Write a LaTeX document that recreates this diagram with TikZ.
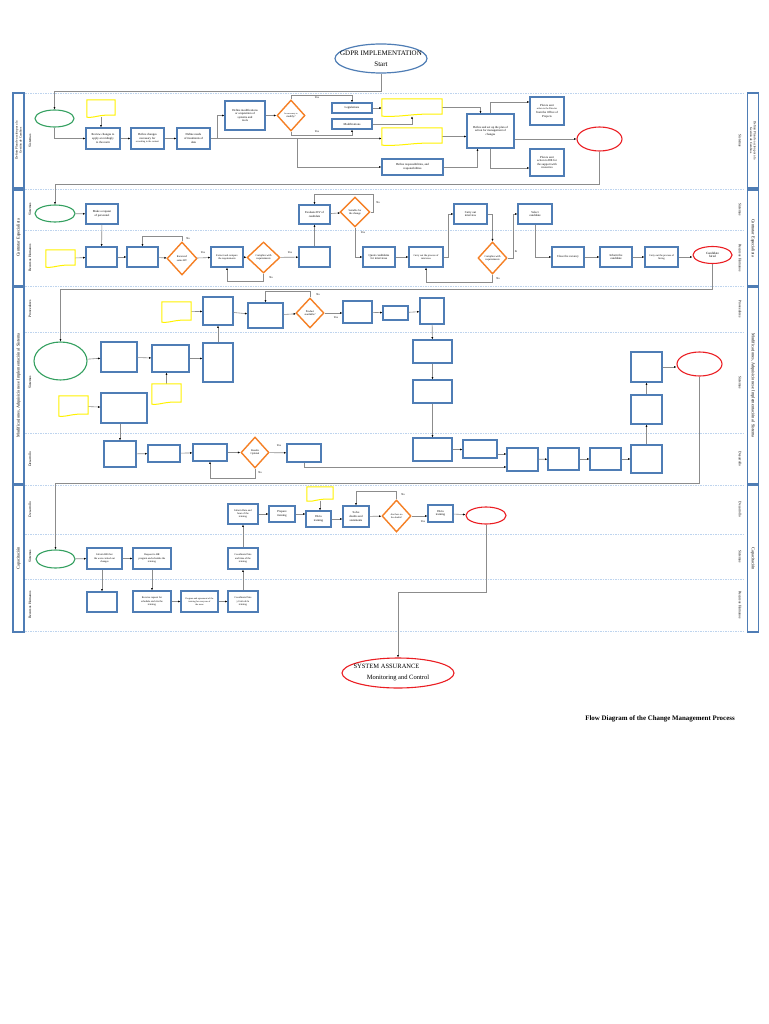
\documentclass[tikz,border=0pt]{standalone}
\usepackage{fontspec}
\setmainfont{Liberation Serif}
\usetikzlibrary{shapes.geometric,arrows.meta,calc}

\definecolor{boxblue}{RGB}{79,125,181}
\definecolor{startgreen}{RGB}{52,160,96}
\definecolor{decorange}{RGB}{245,128,37}
\definecolor{docyellow}{RGB}{255,242,0}
\definecolor{endred}{RGB}{235,30,35}
\definecolor{linegray}{RGB}{140,140,140}
\definecolor{lanecol}{RGB}{190,212,238}

\newcommand{\tinytxt}{\fontsize{2.4}{3}\selectfont}

\tikzset{
  sz/.style 2 args={minimum width=#1pt, minimum height=#2pt},
  box/.style={draw=boxblue, line width=1.1pt, fill=white, inner sep=0.4pt, align=center, font=\fontsize{3}{3.6}\selectfont},
  small/.style={font=\fontsize{2.6}{3.2}\selectfont},
  dec/.style={diamond, draw=decorange, line width=1.4pt, fill=white, inner sep=0pt, align=center, font=\fontsize{2.7}{3.2}\selectfont},
  startnode/.style={ellipse, draw=startgreen, line width=1.1pt, fill=white, inner sep=0pt},
  endnode/.style={ellipse, draw=endred, line width=1.1pt, fill=white, inner sep=0pt, align=center, font=\fontsize{3.2}{3.8}\selectfont},
  ydoc/.style={inner sep=0pt},
  docline/.style={draw=docyellow, line width=1pt},
  line/.style={draw=linegray, line width=0.6pt},
  arr/.style={line, -{Latex[length=2.4pt,width=2pt,color=black]}},
  lbl/.style={font=\fontsize{2.8}{3}\selectfont, inner sep=0pt},
  pool/.style={draw=boxblue, line width=1.1pt, minimum height=11pt, inner sep=0.3pt, align=center, font=\fontsize{4.3}{4.8}\selectfont},
  lane/.style={font=\fontsize{3.6}{4}\selectfont, inner sep=0pt},
  lanesep/.style={draw=lanecol, line width=0.5pt, dash pattern=on 1.5pt off 1pt},
}

\begin{document}
\begin{tikzpicture}[x=1pt, y=-1pt]
  \useasboundingbox[fill=white] (0,0) rectangle (768,1024);

  % lanes
  \foreach \y in {93,189,230,286,332,433,485,534,579,631}
    \draw[lanesep] (25,\y) -- (745,\y);

  % pool titles
  \node[pool, rotate=90, minimum width=95pt, font=\fontsize{3.2}{3.8}\selectfont] (pl1) at (18.5,140.5) {Definir Plan de acción para la\\Gestión de Cambios};
  \node[pool, rotate=90, minimum width=96pt] (pl2) at (18.5,238) {Contratar Especialista};
  \node[pool, rotate=90, minimum width=197pt] (pl3) at (18.5,385.5) {Modificaciones, Adquisiciones e Implementación al Sistema};
  \node[pool, rotate=90, minimum width=147pt] (pl4) at (18.5,558.5) {Capacitación};
  \node[pool, rotate=-90, minimum width=95pt, font=\fontsize{3.2}{3.8}\selectfont] (pr1) at (753,140.5) {Definir Plan de acción para la\\Gestión de Cambios};
  \node[pool, rotate=-90, minimum width=96pt] (pr2) at (753,238) {Contratar Especialista};
  \node[pool, rotate=-90, minimum width=197pt] (pr3) at (753,385.5) {Modificaciones, Adquisiciones e Implementación al Sistema};
  \node[pool, rotate=-90, minimum width=147pt] (pr4) at (753,558.5) {Capacitación};

  % lane names
  \foreach \n/\y/\t in {a/141/Sistemas, b/209.5/Sistemas, c/258/Recursos Humanos, d/309/Proveedores,
      e/382.5/Sistemas, f/459/Desarrollo, g/509.5/Desarrollo, h/556.5/Sistemas, i/605/Recursos Humanos} {
    \node[lane, rotate=90] (ll\n) at (30,\y) {\t};
    \node[lane, rotate=-90] (lr\n) at (740,\y) {\t};
  }

  % plan of action
  \node[ellipse, draw=boxblue, line width=1.2pt, sz={92}{29}, inner sep=0pt, align=center, font=\fontsize{7}{10.5}\selectfont] (start) at (381,58.5) {\makebox[0pt]{GDPR IMPLEMENTATION}\\Start};
  \node[startnode, sz={39}{17}] (g1) at (54.5,118.5) {};
  \node[ydoc, sz={28}{17}] (y1) at (101,108.5) {};
  \node[box, sz={34}{21}] (b11) at (103,138.5) {Review changes to\\apply accordingly\\to the norm};
  \node[box, sz={33}{21}] (b12) at (147.5,138.5) {Define changes\\necessary for\\{\tinytxt according to the context}};
  \node[box, sz={33}{21}] (b13) at (193.5,138.5) {Define needs\\of treatments of\\data};
  \node[box, sz={40}{29}] (b14) at (245,115.5) {Define modifications\\or acquisition of\\systems and\\tools};
  \node[dec, sz={28}{31}] (dm1) at (291,115.5) {{\fontsize{2.2}{2.6}\selectfont Is necessary to}\\modify?};
  \node[box, sz={40}{10}] (b15) at (352,108) {Legislations};
  \node[box, sz={40}{10}] (b16) at (352,124) {Modifications};
  \node[ydoc, sz={60}{17}] (y2) at (412,107.5) {};
  \node[ydoc, sz={60}{17}] (y3) at (412,136.5) {};
  \node[box, sz={61}{16}] (b17) at (412.5,167) {Define responsibilities, and\\responsibilities};
  \node[box, sz={47}{34}] (b18) at (490.5,131) {Define and set up the plan of\\action for management of\\changes};
  \node[box, sz={34}{28}] (b19) at (547,111) {Plan is sent\\{\tinytxt action to the Director}\\from the Office of\\Projects};
  \node[box, sz={34}{27}] (b1a) at (547,162.5) {Plan is sent\\action to HR for\\the support with\\resources};
  \node[endnode, sz={45}{24}] (r1) at (599.5,139) {};
  \coordinate (j1) at (217,138.5);
  \coordinate (j2) at (297,138.5);

  \draw[arr] (start.south) -- ++(0,18) -| (g1.north);
  \draw[arr] (g1.south) |- (b11.west);
  \draw[arr] (y1.south) -- (y1.south |- b11.north);
  \draw[arr] (b11) -- (b12);
  \draw[arr] (b12) -- (b13);
  \draw[arr] (b13.east) -- (b13.east -| y3.west);
  \draw[arr] (j1) |- (b14.west);
  \draw[arr] (j2) |- (b17.west);
  \draw[arr] (b14) -- (dm1);
  \draw[arr] (dm1.north) -- ++(0,-4) -| (b15.north);
  \draw[arr] (dm1.south) -- ++(0,4) -| (b16.south);
  \draw[arr] (b15.east) -- (b15.east -| y2.west);
  \draw[arr] (b16.east) -| (y2.south);
  \draw[arr] (y2.east) -| ([xshift=-10pt]b18.north);
  \draw[arr] (y3.east) -- (y3.east -| b18.west);
  \draw[arr] (b17.east) -| ([xshift=-13pt]b18.south);
  \draw[arr] (b18.north) |- ([yshift=9pt]b19.west);
  \draw[arr] (b18.south) |- ([yshift=-5.5pt]b1a.west);
  \draw[arr] (r1.west -| b18.east) -- (r1.west);
  \node[lbl] (l1) at (317,98) {Yes};
  \node[lbl] (l2) at (317,132) {Yes};

  % hiring of the specialist
  \node[startnode, sz={40}{17}] (g2) at (55,213.5) {};
  \draw[arr] (r1.south) -- ++(0,33) -| (g2.north);
  \node[box, sz={32}{20}] (b21) at (102,214) {Make a request\\of personnel};
  \node[ydoc, sz={29}{17}] (y4) at (60.5,258.5) {};
  \node[box, sz={31}{20}] (b22) at (101.5,257) {};
  \node[box, sz={31}{20}] (b23) at (142.5,257) {};
  \node[dec, sz={30}{33}] (dm2) at (182,258.5) {Received\\same HV};
  \node[box, sz={32}{20}, small] (b24) at (227,257) {Extract and compare\\the requirements};
  \node[dec, sz={33}{31}] (dm3) at (263.5,257.5) {Complies with\\requirements};
  \node[box, sz={31}{20}] (b25) at (314.5,257) {};
  \node[box, sz={31}{19}] (b26) at (314.5,214.5) {Evaluate HV of\\candidate};
  \node[dec, sz={30}{30}] (dm4) at (355,212) {Suitable for\\the change};
  \node[box, sz={32}{20}] (b27) at (379,257) {Quote candidates\\for interviews};
  \node[box, sz={34}{20}, small] (b28) at (426,257) {Carry out the process of\\interview};
  \node[box, sz={33}{20}] (b29) at (470.5,214) {Carry out\\interview};
  \node[dec, sz={29}{32}] (dm5) at (492.5,258) {Complies with\\requirements};
  \node[box, sz={34}{20}] (b2a) at (535,214) {Select\\candidate};
  \node[box, sz={32}{20}] (b2b) at (568,257) {Close the vacancy};
  \node[box, sz={32}{20}] (b2c) at (616,257) {Inform the\\candidate};
  \node[box, sz={33}{20}, small] (b2d) at (661.5,257) {Carry out the process of\\hiring};
  \node[endnode, sz={39}{17}] (r2) at (712.5,255) {Candidate\\hired};

  \draw[arr] (g2) -- (b21);
  \draw[arr] (b21) -- (b22);
  \draw[arr] (y4) -- (b22);
  \draw[arr] (b22) -- (b23);
  \draw[arr] (b23) -- (dm2);
  \draw[arr] (dm2.north) -- ++(0,-5) -| (b23.north);
  \draw[arr] (dm2) -- (b24);
  \draw[arr] (b24) -- (dm3);
  \draw[arr] (dm3.south) -- ++(0,8) -| (b24.south);
  \draw[arr] (dm3) -- (b25);
  \draw[arr] (b25) -- (b26);
  \draw[arr] (b26) -- (dm4);
  \draw[arr] (dm4.east) -| ++(3,-18) -| (b26.north);
  \draw[arr] (dm4.south) |- (b27.west);
  \draw[arr] (b27) -- (b28);
  \draw[arr] (b28.east) -- ++(5,0) |- (b29.west);
  \draw[arr] (b29.east) -| (dm5.north);
  \draw[arr] (dm5.east) -- ++(6,0) |- (b2a.west);
  \draw[arr] (dm5.south) -- ++(0,8) -| (b28.south);
  \draw[arr] (b2a.south) |- (b2b.west);
  \draw[arr] (b2b) -- (b2c);
  \draw[arr] (b2c) -- (b2d);
  \draw[arr] (b2d.east) -- (b2d.east -| r2.west);
  \node[lbl] (l3) at (188,239) {No};
  \node[lbl] (l4) at (203,253) {Yes};
  \node[lbl] (l5) at (271,278) {No};
  \node[lbl] (l6) at (290,253) {Yes};
  \node[lbl] (l7) at (378,203) {No};
  \node[lbl] (l8) at (363,233) {Yes};
  \node[lbl] (l9) at (516,252) {Si};
  \node[lbl] (l10) at (498,279) {No};

  % modifications, acquisitions and implementation
  \node[startnode, sz={53}{38}] (g3) at (60.5,361) {};
  \draw[arr] (r2.south) -- ++(0,25.5) -| (g3.north);
  \node[ydoc, sz={29}{20}] (y5) at (176.5,312) {};
  \node[box, sz={30}{28}] (b31) at (218,311) {};
  \node[box, sz={35}{25}] (b32) at (265.5,315.5) {};
  \node[dec, sz={28}{30}] (dm6) at (310,313) {Product\\available?};
  \node[box, sz={29}{22}] (b33) at (357.5,312) {};
  \node[box, sz={25}{14}] (b34) at (395.5,313) {};
  \node[box, sz={24}{26}] (b35) at (432,311) {};
  \node[box, sz={39}{23}] (b36) at (432.5,351.5) {};
  \node[box, sz={39}{23}] (b37) at (432.5,391.5) {};
  \node[box, sz={39}{23}] (b38) at (432.5,449.5) {};
  \node[box, sz={34}{18}] (b39) at (480,449) {};
  \node[box, sz={31}{23}] (b3a) at (522.5,459.5) {};
  \node[box, sz={31}{22}] (b3b) at (563.5,459) {};
  \node[box, sz={31}{22}] (b3c) at (605.5,459) {};
  \node[box, sz={31}{28}] (b3d) at (646.5,459) {};
  \node[box, sz={31}{29}] (b3e) at (646.5,409.5) {};
  \node[box, sz={31}{30}] (b3f) at (646.5,367) {};
  \node[endnode, sz={45}{24}] (r3) at (699.5,364) {};
  \node[box, sz={36}{30}] (s1) at (119,357) {};
  \node[box, sz={37}{27}] (s2) at (170.5,358.5) {};
  \node[box, sz={30}{39}] (s3) at (218,362.5) {};
  \node[ydoc, sz={29}{20}] (y6) at (166.5,394) {};
  \node[ydoc, sz={29}{20}] (y7) at (73.5,406) {};
  \node[box, sz={46}{30}] (s4) at (124,408) {};
  \node[box, sz={32}{26}] (d0) at (120,454) {};
  \node[box, sz={32}{17}] (d1) at (164,453.5) {};
  \node[box, sz={34}{17}] (d2) at (210,452.5) {};
  \node[dec, sz={28}{31}] (dm7) at (255,452.5) {Results\\Optimal};
  \node[box, sz={34}{18}] (d3) at (304,453) {};

  \draw[arr] (y5) -- (b31);
  \draw[arr] (b31) -- (b32);
  \draw[arr] (b32) -- (dm6);
  \draw[arr] (dm6.north) -- ++(0,-6) -| (b32.north);
  \draw[arr] (dm6.east) -- (dm6.east -| b33.west);
  \draw[arr] (b33) -- (b34);
  \draw[arr] (b34) -- (b35);
  \draw[arr] (b35) -- (b36);
  \draw[arr] (b36) -- (b37);
  \draw[arr] (b37) -- (b38);
  \draw[arr] (g3) -- (s1);
  \draw[arr] (s1) -- (s2);
  \draw[arr] (s2.east) -- (s2.east -| s3.west);
  \draw[arr] (s3) -- (b31);
  \draw[arr] (y6.north) -- (y6.north |- s2.south);
  \draw[arr] (y7) -- (s4);
  \draw[arr] (d0.north |- s4.south) -- (d0.north);
  \draw[arr] (d0) -- (d1);
  \draw[arr] (d1) -- (d2);
  \draw[arr] (d2) -- (dm7);
  \draw[arr] (dm7) -- (d3);
  \draw[arr] (dm7.south) -- ++(0,10) -| (d2.south);
  \draw[arr] (d3.south) |- ([yshift=-7.5pt]b3a.west);
  \draw[arr] (b38.east) -- (b38.east -| b39.west);
  \draw[arr] ([yshift=-5pt]b39.east) -- ([yshift=-5pt]b39.east -| b3a.west);
  \draw[arr] (b3a) -- (b3b);
  \draw[arr] (b3b) -- (b3c);
  \draw[arr] (b3c) -- (b3d);
  \draw[arr] (b3d) -- (b3e);
  \draw[arr] (b3e) -- (b3f);
  \draw[arr] (b3f.east) -- (b3f.east -| r3.west);
  \node[lbl] (l11) at (318,295) {No};
  \node[lbl] (l12) at (336,318) {Yes};
  \node[lbl] (l13) at (279,446) {Yes};
  \node[lbl] (l14) at (260,473) {No};

  % training
  \node[startnode, sz={39}{18}] (g4) at (55.5,559) {};
  \draw[arr] (r3.south) -- ++(0,107) -| (g4.north);
  \node[box, sz={35}{21}, small] (c1) at (104.5,558.5) {Inform HR that\\the were carried out\\changes};
  \node[box, sz={38}{21}, small] (c2) at (152,558.5) {Request to HR\\program and schedule the\\training};
  \node[box, sz={30}{20}] (c3) at (102,602) {};
  \node[box, sz={38}{21}, small] (c4) at (152,601.5) {Receive request for\\schedule and cite the\\training};
  \node[box, sz={37}{21}, font=\fontsize{2.3}{3.1}\selectfont] (c5) at (199.5,601.5) {Program and agreement of the\\training for everyone of\\the areas};
  \node[box, sz={30}{21}, small] (c6) at (243,601.5) {Coordinate Date\\y form de la\\training};
  \node[box, sz={30}{21}, small] (c7) at (243,558.5) {Coordinate Date\\and time of the\\training};
  \node[box, sz={30}{20}, small] (c8) at (243,514) {Inform Date and\\hour of the\\training};
  \node[box, sz={26}{16}] (c9) at (282,514) {Prepare\\training};
  \node[ydoc, sz={26}{14}] (y8) at (320,494) {};
  \node[box, sz={25}{16}] (ca) at (318.5,519) {Dicta\\training};
  \node[box, sz={26}{21}] (cb) at (356,516.5) {Solve\\doubts and\\statements};
  \node[dec, sz={29}{32}, font=\fontsize{2.4}{3}\selectfont] (dm8) at (396.5,516) {Are there no\\the doubts?};
  \node[box, sz={25}{17}] (cc) at (440.5,513.5) {Dicta\\training};
  \node[endnode, sz={40}{17}] (r4) at (486,515.5) {};

  \draw[arr] (g4) -- (c1);
  \draw[arr] (c1) -- (c2);
  \draw[arr] (c3.north |- c1.south) -- (c3.north);
  \draw[arr] (c2) -- (c4);
  \draw[arr] (c4) -- (c5);
  \draw[arr] (c5) -- (c6);
  \draw[arr] (c6) -- (c7);
  \draw[arr] (c7) -- (c8);
  \draw[arr] (c8) -- (c9);
  \draw[arr] (c9.east) -- (c9.east -| ca.west);
  \draw[arr] (y8.south) -- (y8.south |- ca.north);
  \draw[arr] (ca.east) -- (ca.east -| cb.west);
  \draw[arr] (cb) -- (dm8);
  \draw[arr] (dm8.north) -- ++(0,-8) -| (cb.north);
  \draw[arr] (dm8.east) -- (dm8.east -| cc.west);
  \draw[arr] (cc) -- (r4);
  \node[lbl] (l15) at (403,495) {No};
  \node[lbl] (l16) at (423,522) {Yes};

  % yellow documents
  \foreach \d in {y1,y2,y3,y4,y5,y6,y7,y8}
    \draw[docline] (\d.north west) -- (\d.north east) -- ([yshift=2pt]\d.south east)
      .. controls ([xshift=-3pt,yshift=3pt]\d.south) and ([xshift=-6pt,yshift=-1pt]\d.south) .. (\d.south west) -- cycle;

  % system assurance
  \node[endnode, sz={112}{30}, font=\fontsize{6.5}{11}\selectfont] (sa) at (398,673) {\makebox[0pt]{SYSTEM ASSURANCE\hspace*{23pt}}\\\makebox[0pt]{Monitoring and Control}};
  \draw[arr] (r4.south) -- ++(0,68) -| (sa.north);
  \node[font=\fontsize{6.9}{8}\selectfont\bfseries] (cap) at (660,719) {Flow Diagram of the Change Management Process};
\end{tikzpicture}
\end{document}
